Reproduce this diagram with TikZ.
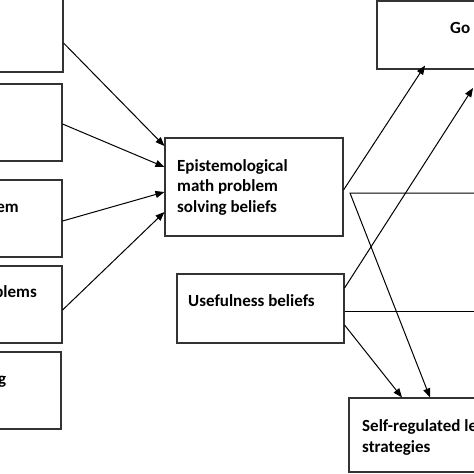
\documentclass[tikz,border=0pt]{standalone}
\usepackage{fontspec}
\setmainfont{Carlito}
\usetikzlibrary{arrows.meta,calc}
\begin{document}
\begin{tikzpicture}[x=1pt,y=-1pt,
  box/.style={draw=black!80,line width=1.1pt,rectangle,inner sep=0pt},
  lbl/.style={font=\bfseries\fontsize{17}{20.5}\selectfont,inner sep=0pt,align=left},
  arr/.style={-{Triangle[length=9pt,width=7pt]},line width=1pt,black},
  ln/.style={line width=1pt,black}]
\useasboundingbox (0,0) rectangle (474,474);
\fill[white] (0,0) rectangle (474,474);
\clip (0,0) rectangle (474,474);
% boxes
\node[box,minimum width=103pt,minimum height=92pt] (L1) at (11.5,26) {};
\node[box,minimum width=102pt,minimum height=77pt] (L2) at (11,122.5) {};
\node[box,minimum width=102pt,minimum height=77pt] (L3) at (11,218.5) {};
\node[box,minimum width=102pt,minimum height=77pt] (L4) at (11,304.5) {};
\node[box,minimum width=101pt,minimum height=77pt] (L5) at (10.5,390.5) {};
\node[box,minimum width=178pt,minimum height=98pt] (E) at (254,187) {};
\node[box,minimum width=167pt,minimum height=69pt] (U) at (260.5,308.5) {};
\node[box,minimum width=143pt,minimum height=68pt] (G) at (448.5,35) {};
\node[box,minimum width=171pt,minimum height=74pt] (S) at (434.5,435) {};
% texts
\node[lbl,anchor=base east] (t3) at (19,212) {em};
\node[lbl,anchor=base east] (t4) at (37,297) {blems};
\node[lbl,anchor=base east] (t5) at (6.5,384) {g};
\node[lbl,anchor=north west] (tE) at (177,159) {Epistemological\\math problem\\solving beliefs};
\node[lbl,anchor=base west] (tU) at (188,306) {Usefulness beliefs};
\node[lbl,anchor=base west] (tG) at (450,33) {Go};
\node[lbl,anchor=north west] (tS) at (362,419.5) {Self-regulated le\\strategies};
% connectors
\draw[arr] ([yshift=-17pt]L1.east) -- ([yshift=41pt]E.west);
\draw[arr] ([yshift=-1.5pt]L2.east) -- ([yshift=20pt]E.west);
\draw[arr] ([yshift=-2.5pt]L3.east) -- ([yshift=-5pt]E.west);
\draw[arr] ([yshift=-5.5pt]L4.east) -- ([yshift=-25pt]E.west);
\draw[arr] ([yshift=-3pt]E.east) -- ([xshift=-23.5pt,yshift=4pt]G.south);
\coordinate (R1) at (473,88);
\draw[arr] ([yshift=20.5pt]U.east) -- (R1);
\coordinate (H1a) at (480,193);
\coordinate (H1b) at (350,193);
\draw[arr] (H1a) -- (H1b) -- ([xshift=-4.5pt]S.north);
\coordinate (H2) at (480,311);
\draw[ln] ([yshift=-2.5pt]U.east) -- (H2);
\draw[arr] ([yshift=-16.5pt]U.east) -- ([xshift=-32.5pt]S.north);
\end{tikzpicture}
\end{document}
